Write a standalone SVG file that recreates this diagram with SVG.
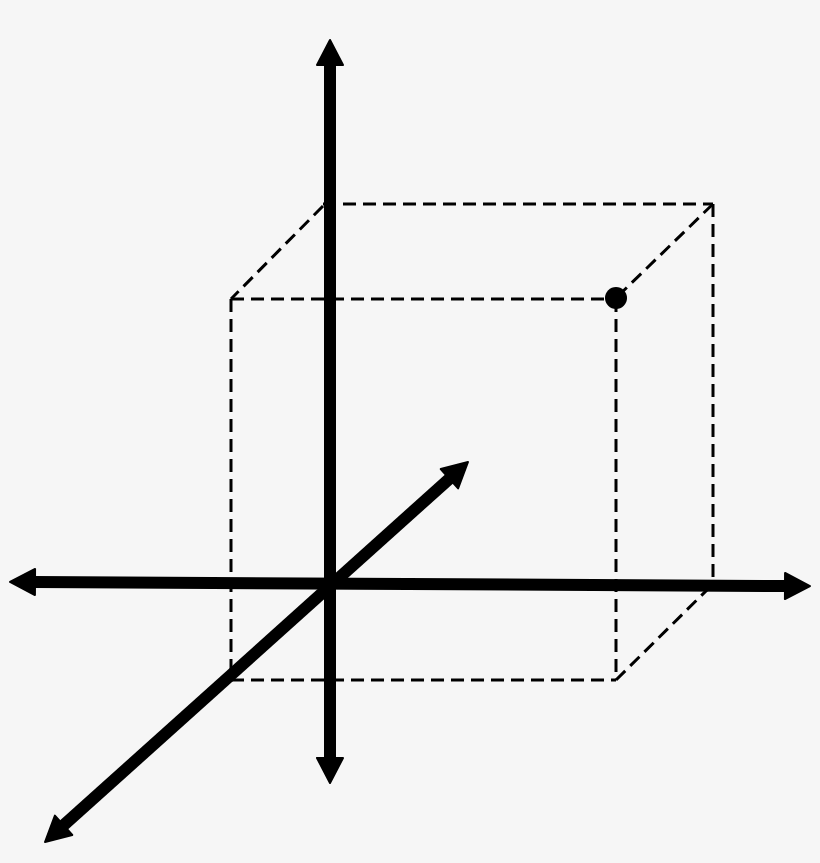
<svg xmlns="http://www.w3.org/2000/svg" width="820" height="863" viewBox="0 0 820 863">
  <defs>
    <marker id="ah" markerUnits="userSpaceOnUse" markerWidth="32" markerHeight="32" viewBox="-2 -16 32 32" refX="0" refY="0" orient="auto-start-reverse" overflow="visible">
      <path d="M0,-13 L25,0 L0,13 Z" fill="#000" stroke="#000" stroke-width="2" stroke-linejoin="round"/>
    </marker>
    <style>
      .dash { fill: none; stroke: #000; stroke-width: 3; stroke-dasharray: 13 7; }
      .axis { fill: none; stroke: #000; stroke-width: 12; marker-start: url(#ah); marker-end: url(#ah); }
    </style>
  </defs>
  <rect width="820" height="863" fill="#f6f6f6"/>
  <g id="box">
    <line class="dash" x1="323" y1="204" x2="713" y2="204"/>
    <line class="dash" x1="713" y1="204" x2="713" y2="584"/>
    <line class="dash" x1="323" y1="206" x2="231" y2="299"/>
    <line class="dash" x1="713" y1="204" x2="616" y2="298"/>
    <line class="dash" x1="231" y1="299" x2="616" y2="299"/>
    <line class="dash" x1="231" y1="299" x2="231" y2="680"/>
    <line class="dash" x1="616" y1="299" x2="616" y2="680"/>
    <line class="dash" x1="231" y1="680" x2="616" y2="680"/>
    <line class="dash" x1="616" y1="680" x2="713" y2="584"/>
  </g>
  <g id="axes">
    <line id="y-axis" class="axis" x1="330" y1="65" x2="330" y2="758"/>
    <line id="x-axis" class="axis" x1="35" y1="582" x2="785" y2="586"/>
    <line id="z-axis" class="axis" x1="63.6" y1="825.3" x2="449.4" y2="478.7"/>
  </g>
  <g id="point">
    <circle cx="616" cy="298" r="11" fill="#000"/>
  </g>
</svg>
